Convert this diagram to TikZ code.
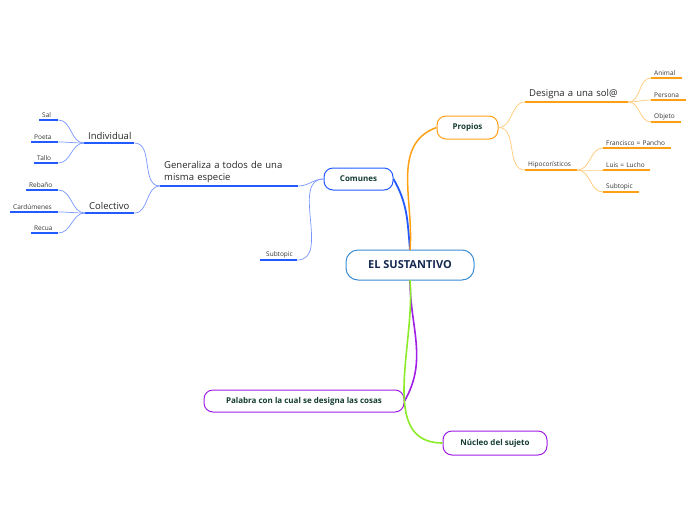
\documentclass[tikz,border=0pt]{standalone}
\usepackage{fontspec}
\setmainfont{Open Sans}
\begin{document}
\begin{tikzpicture}[x=1pt,y=-1pt,
  blueL/.style={draw=blue!60!cyan!80!black, line width=1.6pt},
  bl/.style={color={rgb,255:red,35;green,90;blue,255}},
  orl/.style={color={rgb,255:red,255;green,160;blue,20}},
  leaf/.style={anchor=south west, inner xsep=3pt, inner ysep=2pt, align=left, font=\fontsize{6.5}{8}\selectfont, text=black!80},
  mid/.style={anchor=south west, inner xsep=4pt, inner ysep=3pt, align=left, font=\fontsize{9.5}{12}\selectfont, text=black!85},
  ulB/.style={append after command={(\tikzlastnode.south west) edge[draw={rgb,255:red,35;green,90;blue,255}, line width=1.6pt] (\tikzlastnode.south east)}},
  ulO/.style={append after command={(\tikzlastnode.south west) edge[draw={rgb,255:red,255;green,160;blue,20}, line width=1.6pt] (\tikzlastnode.south east)}},
  cB/.style={draw={rgb,255:red,120;green,150;blue,255}, line width=0.7pt},
  cO/.style={draw={rgb,255:red,255;green,205;blue,130}, line width=0.8pt},
  topic/.style={draw, rounded corners=9pt, line width=1pt, fill=white, font=\bfseries\fontsize{8}{10}\selectfont, text={rgb,255:red,20;green,60;blue,50}, inner sep=0pt}
]
\useasboundingbox (0,0) rectangle (696,520);
% root
\node[draw={rgb,255:red,60;green,140;blue,210}, rounded corners=12pt, line width=1pt, minimum width=128pt, minimum height=30pt, font=\bfseries\fontsize{11}{13}\selectfont, text={rgb,255:red,20;green,40;blue,80}] (root) at (410,265) {EL SUSTANTIVO};
\coordinate (rt) at (410,250);
\coordinate (rb) at (410,280);
% main topics
\node[topic, draw={rgb,255:red,35;green,90;blue,255}, minimum width=69pt, minimum height=22pt] (com) at (358.5,179) {Comunes};
\node[topic, draw={rgb,255:red,255;green,160;blue,20}, minimum width=61pt, minimum height=23pt] (pro) at (467.5,127.5) {Propios};
\node[topic, draw={rgb,255:red,160;green,30;blue,230}, minimum width=200pt, minimum height=22pt] (pal) at (304,401) {Palabra con la cual se designa las cosas};
\node[topic, draw={rgb,255:red,160;green,30;blue,230}, minimum width=104pt, minimum height=24pt] (nuc) at (495,443) {Núcleo del sujeto};
\draw[draw={rgb,255:red,35;green,90;blue,255}, line width=1.8pt] (rt) to[out=95,in=-60] (com.east);
\draw[draw={rgb,255:red,255;green,160;blue,20}, line width=1.5pt] (rt) to[out=85,in=200] (pro.west);
\draw[draw={rgb,255:red,160;green,30;blue,230}, line width=1.6pt] (rb) to[out=-90,in=60] (pal.east);
\draw[draw={rgb,255:red,140;green,235;blue,40}, line width=1.6pt] (rb) to[out=-85,in=180] (nuc.west);
% Comunes branch
\node[mid, ulB, text width=130pt] (gen) at (160,186) {Generaliza a todos de una\\misma especie};
\node[leaf, ulB, text width=31pt] (sub1) at (260,260) {\hspace*{3pt}Subtopic};
\draw[cB] (com.west) to[out=180,in=0] (gen.south east);
\draw[cB] (com.west) to[out=180,in=0] (sub1.south east);
\node[mid, ulB, text width=42pt] (ind) at (84,143) {Individual};
\node[mid, ulB, text width=41pt] (col) at (85,213) {Colectivo};
\draw[cB] (gen.south west) to[out=180,in=0] (ind.south east);
\draw[cB] (gen.south west) to[out=180,in=0] (col.south east);
\node[leaf, ulB, text width=13pt] (sal) at (39,120) {Sal};
\node[leaf, ulB, text width=21pt] (poe) at (31,142) {Poeta};
\node[leaf, ulB, text width=18pt] (tal) at (34,163) {Tallo};
\node[leaf, ulB, text width=26pt] (reb) at (26,190) {Rebaño};
\node[leaf, ulB, text width=42pt] (car) at (10,212) {Cardúmenes};
\node[leaf, ulB, text width=21pt] (rec) at (31,233) {Recua};
\foreach \n in {sal,poe,tal} \draw[cB] (ind.south west) to[out=180,in=0] (\n.south east);
\foreach \n in {reb,car,rec} \draw[cB] (col.south west) to[out=180,in=0] (\n.south east);
% Propios branch
\node[mid, ulO, text width=95pt] (des) at (525,102) {Designa a una sol@};
\node[leaf, ulO, text width=46pt] (hip) at (525,170) {Hipocorísticos};
\draw[cO] (pro.east) to[out=0,in=180] (des.south west);
\draw[cO] (pro.east) to[out=0,in=180] (hip.south west);
\node[leaf, ulO, text width=25pt] (ani) at (651,78) {Animal};
\node[leaf, ulO, text width=29pt] (per) at (651,100) {Persona};
\node[leaf, ulO, text width=24pt] (obj) at (651,122) {Objeto};
\foreach \n in {ani,per,obj} \draw[cO] (des.south east) to[out=0,in=180] (\n.south west);
\node[leaf, ulO, text width=62pt] (fra) at (603,148) {Francisco = Pancho};
\node[leaf, ulO, text width=41pt] (lui) at (603,170) {Luis = Lucho};
\node[leaf, ulO, text width=30pt] (sub2) at (603,192) {Subtopic};
\foreach \n in {fra,lui,sub2} \draw[cO] (hip.south east) to[out=0,in=180] (\n.south west);
\end{tikzpicture}
\end{document}
